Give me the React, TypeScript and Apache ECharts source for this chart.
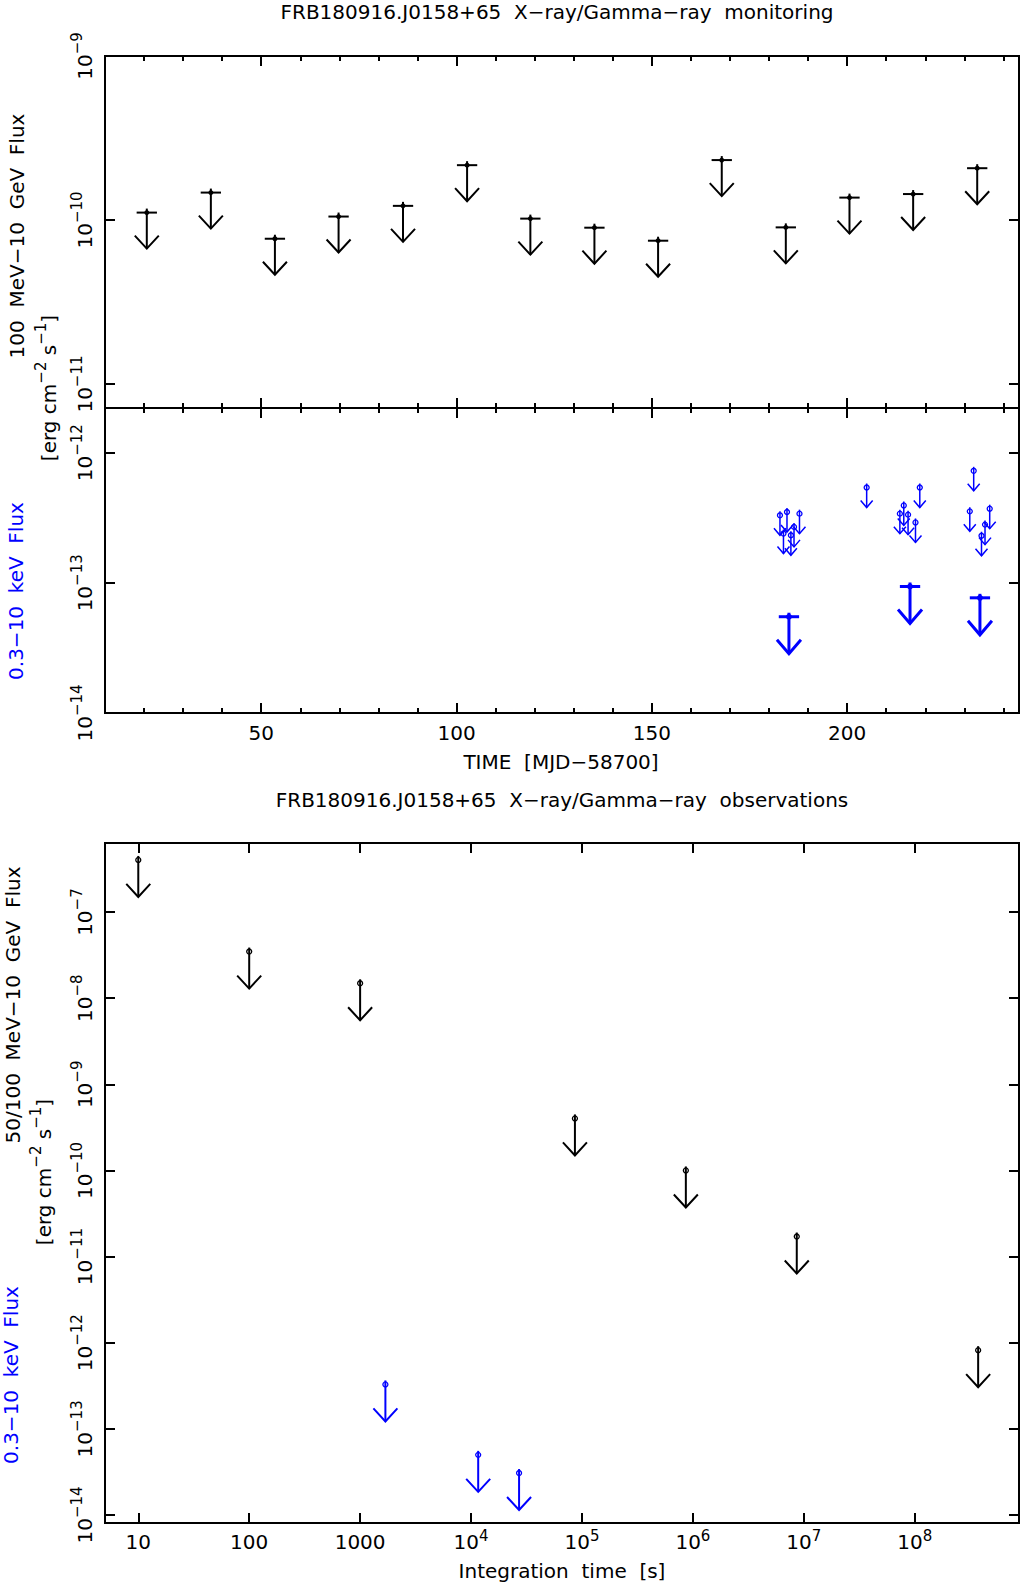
import React, { useEffect, useRef } from 'react';
import * as echarts from 'echarts';

const FONT = 'DejaVu Sans';
const BLUE = '#0000ff';

// LAT 100 MeV-10 GeV upper limits, binned light curve (MJD-58700)
const latDays = [20.7, 37.1, 53.5, 69.8, 86.3, 102.7, 118.9, 135.3, 151.6, 167.9, 184.3, 200.6, 216.9, 233.3];
const latFlux = [1.11e-10, 1.47e-10, 7.69e-11, 1.05e-10, 1.22e-10, 2.16e-10, 1.02e-10, 8.98e-11, 7.48e-11, 2.32e-10, 9.02e-11, 1.37e-10, 1.44e-10, 2.07e-10];
const latHalfBin = 2.6;

// XRT 0.3-10 keV single pointings
const xrtDays = [182.8, 184.6, 187.8, 186.4, 183.7, 185.6, 205.0, 218.6, 214.5, 213.5, 215.6, 217.5, 232.4, 231.4, 236.5, 235.3, 234.4];
const xrtFlux = [3.3e-13, 3.5e-13, 3.4e-13, 2.69e-13, 2.39e-13, 2.32e-13, 5.4e-13, 5.4e-13, 3.93e-13, 3.4e-13, 3.34e-13, 2.91e-13, 7.25e-13, 3.54e-13, 3.71e-13, 2.8e-13, 2.3e-13];

// XRT stacked per activity window
const xrtStackDays = [185.1, 216.1, 234.0];
const xrtStackFlux = [5.49e-14, 9.37e-14, 7.67e-14];
const xrtStackHalfBin = 2.6;

// upper limits against integration time
const gammaTime = [10, 100, 1000, 86400, 864000, 8640000, 3.73e8];
const gammaFlux = [4.03e-7, 3.48e-8, 1.49e-8, 4.02e-10, 1.0e-10, 1.71e-11, 8.2e-13];
const xrayTime = [1690, 11600, 27100];
const xrayFlux = [3.28e-13, 4.99e-14, 3.07e-14];

const timeMajorTicks = [50, 100, 150, 200];
const timeMinorTicks = [20, 30, 40, 60, 70, 80, 90, 110, 120, 130, 140, 160, 170, 180, 190, 210, 220, 230, 240];
const latFluxTicks = [1e-11, 1e-10, 1e-9];
const xrtFluxTicks = [1e-14, 1e-13, 1e-12];
const obsFluxTicks = [1e-14, 1e-13, 1e-12, 1e-11, 1e-10, 1e-9, 1e-8, 1e-7];
const obsTimeTicks = [10, 100, 1000, 1e4, 1e5, 1e6, 1e7, 1e8];

type Arrow = { color: string; width: number; len: number; head: number; headH: number; r: number; filled: boolean; bar: boolean };

const arrowItem = (a: Arrow) => (_params: any, api: any) => {
  const x = api.value(0);
  const y = api.value(1);
  const [px, py] = api.coord([x, y]);
  const stroke = { stroke: a.color, lineWidth: a.width, fill: 'none' };
  const tip = py + a.len;
  const children: any[] = [
    { type: 'line', shape: { x1: px, y1: py - 4, x2: px, y2: tip }, style: stroke },
    {
      type: 'polyline',
      shape: { points: [[px - a.head, tip - a.headH], [px, tip], [px + a.head, tip - a.headH]] },
      style: stroke,
    },
    {
      type: 'circle',
      shape: { cx: px, cy: py, r: a.r },
      style: a.filled ? { fill: a.color } : { fill: 'none', stroke: a.color, lineWidth: 1.3 },
    },
  ];
  if (a.bar) {
    const hw = api.value(2);
    const left = api.coord([x - hw, y])[0];
    const right = api.coord([x + hw, y])[0];
    children.push({ type: 'line', shape: { x1: left, y1: py, x2: right, y2: py }, style: stroke });
  }
  return { type: 'group', children };
};

const latArrow: Arrow = { color: '#000', width: 2, len: 36, head: 12, headH: 13, r: 2.5, filled: true, bar: true };
const stackArrow: Arrow = { color: BLUE, width: 3, len: 37, head: 12, headH: 14, r: 3, filled: true, bar: true };
const xrtArrow: Arrow = { color: BLUE, width: 1.5, len: 20, head: 6, headH: 7, r: 2.5, filled: false, bar: false };
const obsArrow = (color: string): Arrow => ({ color, width: 2, len: 37, head: 12, headH: 13, r: 2.5, filled: false, bar: false });

const powLabel = (v: number) => {
  const e = Math.round(Math.log10(v));
  if (e >= 1 && e <= 3) return `{b|${Math.round(v)}}`;
  return `{b|10}{s|${e < 0 ? '\u2212' + -e : e}}`;
};

const rich = (lh: number) => ({
  b: { fontSize: 20, lineHeight: lh, fontFamily: FONT, color: '#000' },
  s: { fontSize: 15, lineHeight: 14, verticalAlign: 'top', fontFamily: FONT, color: '#000' },
});

const tickLine = { color: '#000', width: 2 };

const timeAxis = (grid: number, position: string, ticks: number[], len: number, labels: boolean) => ({
  type: 'value',
  gridIndex: grid,
  position,
  min: 10,
  max: 244,
  axisLine: { show: false },
  splitLine: { show: false },
  axisTick: { show: true, inside: true, length: len, customValues: ticks, lineStyle: tickLine },
  axisLabel: labels
    ? { show: true, customValues: ticks, margin: 6, color: '#000', fontSize: 20, lineHeight: 28, fontFamily: FONT }
    : { show: false },
});

const logAxis = (grid: number, position: string, min: number, max: number, ticks: number[], labels: boolean, vertical: boolean) => ({
  type: 'log',
  logBase: 10,
  gridIndex: grid,
  position,
  min,
  max,
  axisLine: { show: false },
  splitLine: { show: false },
  axisTick: { show: true, inside: true, length: 10, customValues: ticks, lineStyle: tickLine },
  axisLabel: labels
    ? {
        show: true,
        customValues: ticks,
        rotate: vertical ? 90 : 0,
        margin: vertical ? 4 : 5,
        formatter: powLabel,
        rich: rich(vertical ? 32 : 28),
      }
    : { show: false },
});

const txt = (text: string, x: number, y: number, color: string, rotated: boolean, extra: any = {}) => ({
  type: 'text',
  x,
  y,
  rotation: rotated ? Math.PI / 2 : 0,
  silent: true,
  style: {
    text,
    fill: color,
    fontSize: 20,
    fontFamily: FONT,
    align: 'center',
    verticalAlign: 'middle',
    textAlign: 'center',
    textVerticalAlign: 'middle',
    ...extra,
  },
});

const unitsRich = {
  lineHeight: 32,
  rich: { s: { fontSize: 15, lineHeight: 14, verticalAlign: 'top', fontFamily: FONT, fill: '#000', color: '#000' } },
};

const App: React.FC = () => {
  const chartRef = useRef<HTMLDivElement>(null);

  useEffect(() => {
    const chart = echarts.init(chartRef.current as HTMLDivElement, undefined, { renderer: 'svg' });

    const frame = { show: true, borderColor: '#000', borderWidth: 2, backgroundColor: 'transparent' };
    const units = '[erg cm{s|\u22122} s{s|\u22121}]';

    const option: any = {
      animation: false,
      textStyle: { fontFamily: FONT },
      grid: [
        { left: 105, right: 2, top: 56, height: 352, ...frame },
        { left: 105, right: 2, top: 408, height: 305, ...frame },
        { left: 105, right: 2, top: 843, height: 680, ...frame },
      ],
      xAxis: [
        timeAxis(0, 'bottom', timeMajorTicks, 10, false),
        timeAxis(0, 'bottom', timeMinorTicks, 5, false),
        timeAxis(0, 'top', timeMajorTicks, 10, false),
        timeAxis(0, 'top', timeMinorTicks, 5, false),
        timeAxis(1, 'bottom', timeMajorTicks, 10, true),
        timeAxis(1, 'bottom', timeMinorTicks, 5, false),
        timeAxis(1, 'top', timeMajorTicks, 10, false),
        timeAxis(1, 'top', timeMinorTicks, 5, false),
        logAxis(2, 'bottom', Math.pow(10, 0.7), Math.pow(10, 8.94), obsTimeTicks, true, false),
        logAxis(2, 'top', Math.pow(10, 0.7), Math.pow(10, 8.94), obsTimeTicks, false, false),
      ],
      yAxis: [
        logAxis(0, 'left', Math.pow(10, -11.146), 1e-9, latFluxTicks, true, true),
        logAxis(0, 'right', Math.pow(10, -11.146), 1e-9, latFluxTicks, false, true),
        logAxis(1, 'left', 1e-14, Math.pow(10, -11.657), xrtFluxTicks, true, true),
        logAxis(1, 'right', 1e-14, Math.pow(10, -11.657), xrtFluxTicks, false, true),
        logAxis(2, 'left', Math.pow(10, -14.093), Math.pow(10, -6.198), obsFluxTicks, true, true),
        logAxis(2, 'right', Math.pow(10, -14.093), Math.pow(10, -6.198), obsFluxTicks, false, true),
      ],
      series: [
        {
          type: 'custom',
          name: 'LAT',
          xAxisIndex: 0,
          yAxisIndex: 0,
          clip: false,
          silent: true,
          renderItem: arrowItem(latArrow),
          data: latDays.map((d, i) => [d, latFlux[i], latHalfBin]),
        },
        {
          type: 'custom',
          name: 'XRT',
          xAxisIndex: 4,
          yAxisIndex: 2,
          clip: false,
          silent: true,
          renderItem: arrowItem(xrtArrow),
          data: xrtDays.map((d, i) => [d, xrtFlux[i]]),
        },
        {
          type: 'custom',
          name: 'XRT stacked',
          xAxisIndex: 4,
          yAxisIndex: 2,
          clip: false,
          silent: true,
          renderItem: arrowItem(stackArrow),
          data: xrtStackDays.map((d, i) => [d, xrtStackFlux[i], xrtStackHalfBin]),
        },
        {
          type: 'custom',
          name: 'gamma',
          xAxisIndex: 8,
          yAxisIndex: 4,
          clip: false,
          silent: true,
          renderItem: arrowItem(obsArrow('#000')),
          data: gammaTime.map((t, i) => [t, gammaFlux[i]]),
        },
        {
          type: 'custom',
          name: 'xray',
          xAxisIndex: 8,
          yAxisIndex: 4,
          clip: false,
          silent: true,
          renderItem: arrowItem(obsArrow(BLUE)),
          data: xrayTime.map((t, i) => [t, xrayFlux[i]]),
        },
      ],
      graphic: [
        txt('FRB180916.J0158+65  X\u2212ray/Gamma\u2212ray  monitoring', 557, 12, '#000', false),
        txt('FRB180916.J0158+65  X\u2212ray/Gamma\u2212ray  observations', 562, 800, '#000', false),
        txt('TIME  [MJD\u221258700]', 561, 762, '#000', false),
        txt('Integration  time  [s]', 562, 1571, '#000', false),
        txt('100  MeV\u221210  GeV  Flux', 17, 236, '#000', true),
        txt(units, 49, 388, '#000', true, unitsRich),
        txt('0.3\u221210  keV  Flux', 16, 591, BLUE, true),
        txt('50/100  MeV\u221210  GeV  Flux', 13, 1005, '#000', true),
        txt(units, 44, 1172, '#000', true, unitsRich),
        txt('0.3\u221210  keV  Flux', 11, 1375, BLUE, true),
      ],
    };

    chart.setOption(option);
    return () => {
      chart.dispose();
    };
  }, []);

  return (
    <div
      ref={chartRef}
      style={{ position: 'absolute', left: 0, top: 0, width: 1021, height: 1582, background: '#fff' }}
    />
  );
};

export default App;
